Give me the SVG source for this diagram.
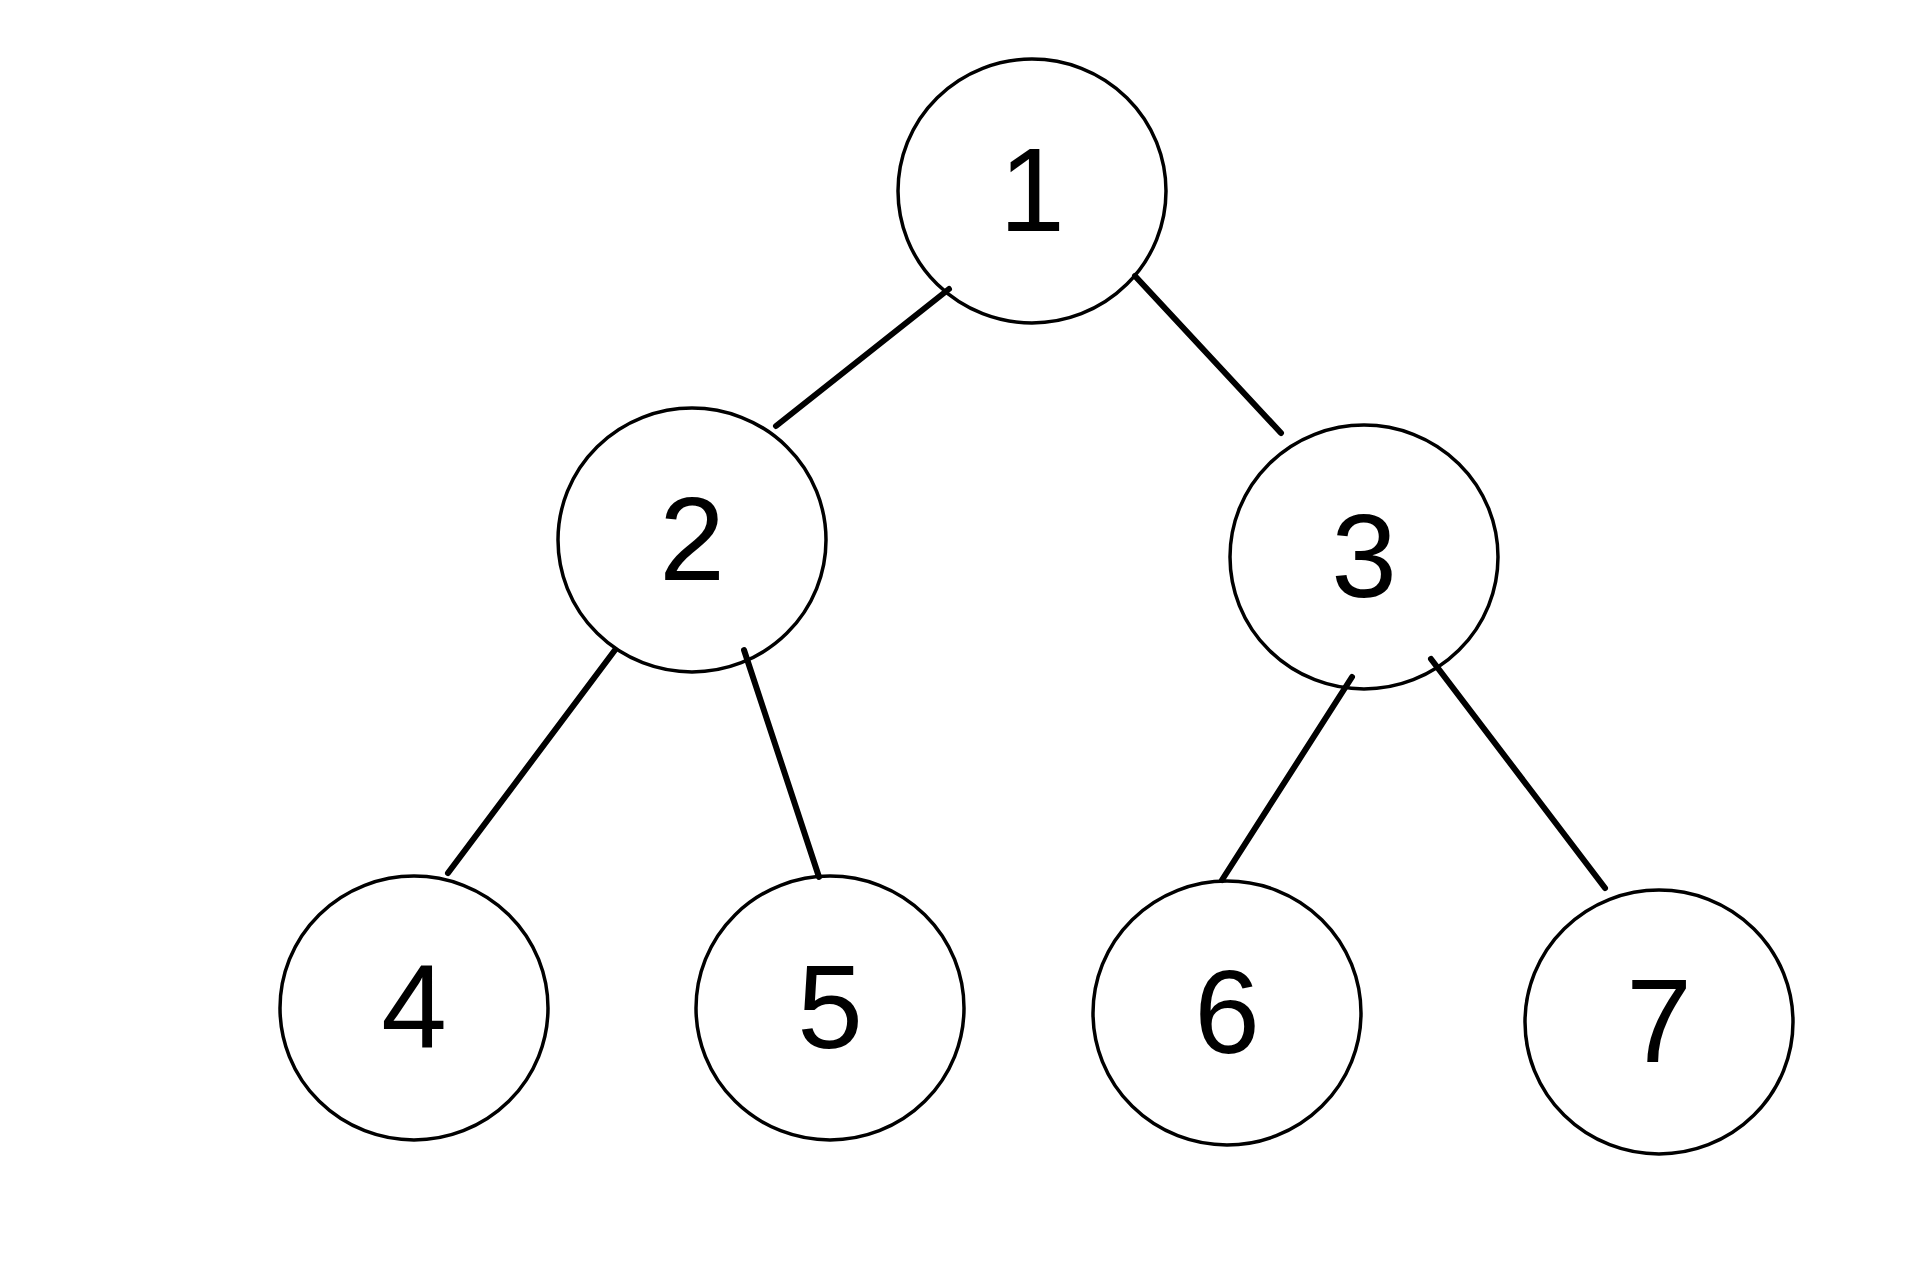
<svg xmlns="http://www.w3.org/2000/svg" width="1920" height="1263" viewBox="0 0 1920 1263">
<style>
.n ellipse{fill:#fff;stroke:#000;stroke-width:3.5}
.n text{font-family:"Liberation Sans",Arial,sans-serif;font-size:118px;text-anchor:middle;fill:#000}
#edges line{stroke:#000;stroke-width:6;stroke-linecap:round}
</style>
<rect width="1920" height="1263" fill="#fff"/>
<g id="n1" class="n"><ellipse cx="1032" cy="191" rx="134" ry="132"/><text x="1032" y="231">1</text></g>
<g id="n2" class="n"><ellipse cx="692" cy="540" rx="134" ry="132"/><text x="692" y="580">2</text></g>
<g id="n3" class="n"><ellipse cx="1364" cy="557" rx="134" ry="132"/><text x="1364" y="597">3</text></g>
<g id="n4" class="n"><ellipse cx="414" cy="1008" rx="134" ry="132"/><text x="414" y="1048">4</text></g>
<g id="n5" class="n"><ellipse cx="830" cy="1008" rx="134" ry="132"/><text x="830" y="1048">5</text></g>
<g id="n6" class="n"><ellipse cx="1227" cy="1013" rx="134" ry="132"/><text x="1227" y="1053">6</text></g>
<g id="n7" class="n"><ellipse cx="1659" cy="1022" rx="134" ry="132"/><text x="1659" y="1062">7</text></g>
<g id="edges">
<line x1="949" y1="289" x2="776" y2="426"/>
<line x1="1135" y1="276" x2="1281" y2="433"/>
<line x1="615" y1="650" x2="448" y2="873"/>
<line x1="744" y1="650" x2="819" y2="877"/>
<line x1="1352" y1="677" x2="1222" y2="880"/>
<line x1="1431" y1="659" x2="1605" y2="888"/>
</g>
</svg>
